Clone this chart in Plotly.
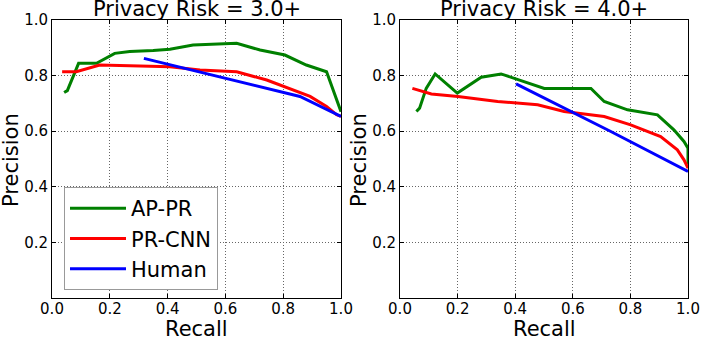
import plotly.graph_objects as go

# ---- data ----
ap_pr_3_recall = [0.042, 0.053, 0.092, 0.154, 0.217, 0.269, 0.350, 0.408, 0.488, 0.558, 0.639, 0.720, 0.806, 0.880, 0.950, 1.000]
ap_pr_3_prec   = [0.739, 0.746, 0.844, 0.844, 0.880, 0.887, 0.890, 0.895, 0.910, 0.914, 0.916, 0.892, 0.874, 0.838, 0.814, 0.670]
prcnn_3_recall = [0.035, 0.084, 0.165, 0.304, 0.408, 0.512, 0.639, 0.743, 0.823, 0.893, 0.950, 0.985, 1.000]
prcnn_3_prec   = [0.814, 0.814, 0.838, 0.835, 0.832, 0.820, 0.814, 0.784, 0.754, 0.725, 0.689, 0.659, 0.653]
human_3_recall = [0.318, 0.627, 0.858, 1.000]
human_3_prec   = [0.862, 0.784, 0.725, 0.653]

ap_pr_4_recall = [0.057, 0.068, 0.091, 0.122, 0.199, 0.282, 0.351, 0.415, 0.455, 0.501, 0.663, 0.709, 0.790, 0.894, 0.951, 0.986, 1.000, 1.000]
ap_pr_4_prec   = [0.671, 0.683, 0.754, 0.806, 0.737, 0.794, 0.806, 0.784, 0.772, 0.754, 0.754, 0.707, 0.677, 0.659, 0.605, 0.563, 0.539, 0.480]
prcnn_4_recall = [0.043, 0.109, 0.201, 0.339, 0.478, 0.570, 0.709, 0.801, 0.905, 0.963, 0.986, 1.000]
prcnn_4_prec   = [0.754, 0.734, 0.725, 0.707, 0.695, 0.671, 0.653, 0.623, 0.581, 0.533, 0.497, 0.467]
human_4_recall = [0.403, 0.732, 1.000]
human_4_prec   = [0.770, 0.599, 0.455]

titles = ["Privacy Risk = 3.0+", "Privacy Risk = 4.0+"]
series_names = ["AP-PR", "PR-CNN", "Human"]
colors = ["#008000", "#ff0000", "#0000ff"]
x_ticks = [0.0, 0.2, 0.4, 0.6, 0.8, 1.0]
y_ticks = [0.2, 0.4, 0.6, 0.8, 1.0]

W, H = 702, 338
FONT = "DejaVu Sans"

fig = go.Figure()
panels = [
    [(ap_pr_3_recall, ap_pr_3_prec), (prcnn_3_recall, prcnn_3_prec), (human_3_recall, human_3_prec)],
    [(ap_pr_4_recall, ap_pr_4_prec), (prcnn_4_recall, prcnn_4_prec), (human_4_recall, human_4_prec)],
]
for p, data in enumerate(panels):
    xa = "x" if p == 0 else "x2"
    ya = "y" if p == 0 else "y2"
    for i, (xs, ys) in enumerate(data):
        fig.add_trace(go.Scatter(
            x=xs, y=ys, mode="lines", name=series_names[i],
            line=dict(color=colors[i], width=3),
            xaxis=xa, yaxis=ya, showlegend=(p == 0),
        ))

left_dom = [52 / W, 341 / W]
right_dom = [400 / W, 688 / W]
y_dom = [(H - 298) / H, (H - 20) / H]

axis_common = dict(
    range=[0, 1], showline=True, linecolor="black", linewidth=1, mirror="ticks",
    ticks="inside", ticklen=4, tickcolor="black", showgrid=True, gridcolor="#666666",
    griddash="1px,2px", gridwidth=0.7, zeroline=False, automargin=False,
    tickfont=dict(family=FONT, size=15, color="black"),
)
fig.update_layout(
    template="none",
    width=W, height=H,
    margin=dict(l=0, r=0, t=0, b=0, autoexpand=False),
    paper_bgcolor="white", plot_bgcolor="white",
    font=dict(family=FONT, color="black"),
    xaxis=dict(domain=left_dom, anchor="y", tickvals=x_ticks, ticktext=[f"{v:.1f}" for v in x_ticks],
               ticklabelstandoff=-3, **axis_common),
    yaxis=dict(domain=y_dom, anchor="x", tickvals=y_ticks, ticktext=[f"{v:.1f}" for v in y_ticks], **axis_common),
    xaxis2=dict(domain=right_dom, anchor="y2", tickvals=x_ticks, ticktext=[f"{v:.1f}" for v in x_ticks],
                ticklabelstandoff=-3, **axis_common),
    yaxis2=dict(domain=y_dom, anchor="x2", tickvals=y_ticks, ticktext=[f"{v:.1f}" for v in y_ticks], **axis_common),
    legend=dict(
        x=64 / W, y=(H - 187) / H, xanchor="left", yanchor="top",
        bordercolor="#999999", borderwidth=1, bgcolor="white",
        font=dict(family=FONT, size=21, color="black"),
        itemwidth=56, tracegroupgap=0,
    ),
    showlegend=True,
)

anns = []
for p, dom in enumerate([left_dom, right_dom]):
    cx = (dom[0] + dom[1]) / 2
    anns.append(dict(text=titles[p], x=cx, y=y_dom[1], xref="paper", yref="paper",
                     xanchor="center", yanchor="bottom", yshift=-3, showarrow=False,
                     font=dict(family=FONT, size=21, color="black")))
    anns.append(dict(text="Recall", x=cx, y=(H - 328.5) / H, xref="paper", yref="paper",
                     xanchor="center", yanchor="middle", showarrow=False,
                     font=dict(family=FONT, size=21, color="black")))
anns.append(dict(text="Precision", x=11 / W, y=(H - 160) / H, xref="paper", yref="paper",
                 xanchor="center", yanchor="middle", textangle=-90, showarrow=False,
                 font=dict(family=FONT, size=21, color="black")))
anns.append(dict(text="Precision", x=359 / W, y=(H - 160) / H, xref="paper", yref="paper",
                 xanchor="center", yanchor="middle", textangle=-90, showarrow=False,
                 font=dict(family=FONT, size=21, color="black")))
fig.update_layout(annotations=anns)

fig.write_html("out.html", config={"displayModeBar": False},
               post_script="document.body.style.margin='0';document.body.style.overflow='hidden';")
